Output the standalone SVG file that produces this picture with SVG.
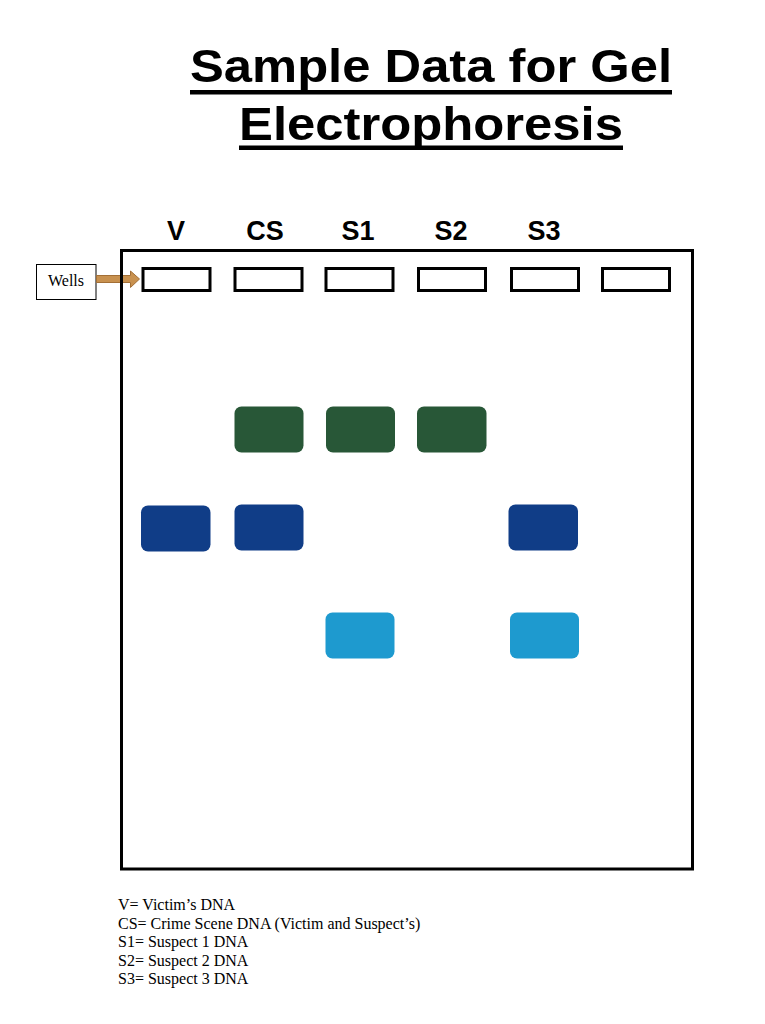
<svg xmlns="http://www.w3.org/2000/svg" width="765" height="1024" viewBox="0 0 765 1024">
<style>
.title{font-family:"Liberation Sans",Arial,sans-serif;font-weight:bold;font-size:46px;fill:#000}
.lane{font-family:"Liberation Sans",Arial,sans-serif;font-weight:bold;font-size:27px;fill:#000;text-anchor:middle}
.legend{font-family:"Liberation Serif","Times New Roman",serif;font-size:16px;fill:#000}
.well{fill:#fff;stroke:#000;stroke-width:3}
.green{fill:#285737}
.blue{fill:#103D87}
.light{fill:#1E9ACF}
</style>
<rect width="765" height="1024" fill="#fff"/>
<g id="title">
<text class="title" x="190" y="81.5" textLength="482" lengthAdjust="spacingAndGlyphs">Sample Data for Gel</text>
<rect x="190" y="90" width="482" height="4.5" fill="#000"/>
<text class="title" x="239" y="139.5" textLength="384" lengthAdjust="spacingAndGlyphs">Electrophoresis</text>
<rect x="239" y="145.5" width="384" height="4.5" fill="#000"/>
</g>
<g id="lane-labels">
<text class="lane" x="176" y="240">V</text>
<text class="lane" x="265" y="240">CS</text>
<text class="lane" x="358" y="240">S1</text>
<text class="lane" x="451" y="240">S2</text>
<text class="lane" x="544" y="240">S3</text>
</g>
<g id="gel">
<rect x="121.5" y="250.5" width="571" height="618.5" fill="#fff" stroke="#000" stroke-width="3"/>
</g>
<g id="wells">
<rect class="well" x="143" y="268.5" width="67" height="22"/>
<rect class="well" x="235" y="268.5" width="67" height="22"/>
<rect class="well" x="326" y="268.5" width="67" height="22"/>
<rect class="well" x="418.5" y="268.5" width="67" height="22"/>
<rect class="well" x="511.5" y="268.5" width="67" height="22"/>
<rect class="well" x="602.5" y="268.5" width="67" height="22"/>
</g>
<g id="wells-label">
<rect x="36.5" y="264.5" width="59.5" height="35" fill="#fff" stroke="#000" stroke-width="1"/>
<text class="legend" x="66" y="285.5" text-anchor="middle">Wells</text>
</g>
<g id="connectors">
<path d="M96.5,275.5 H130.5 V271 L139.5,279 L130.5,287.5 V282.5 H96.5 Z" fill="#C8914F" stroke="#A36F36" stroke-width="1"/>
<line x1="121.5" y1="250.5" x2="121.5" y2="300" stroke="#000" stroke-width="3"/>
</g>
<g id="bands">
<rect class="green" x="234.5" y="406.5" width="69" height="46" rx="7"/>
<rect class="green" x="326" y="406.5" width="69" height="46" rx="7"/>
<rect class="green" x="417" y="406.5" width="69.5" height="46" rx="7"/>
<rect class="blue" x="141" y="505.5" width="69.5" height="46" rx="7"/>
<rect class="blue" x="234.5" y="504.5" width="69" height="46" rx="7"/>
<rect class="blue" x="508.5" y="504.5" width="69.5" height="46" rx="7"/>
<rect class="light" x="325.5" y="612.5" width="69" height="46" rx="7"/>
<rect class="light" x="510" y="612.5" width="69" height="46" rx="7"/>
</g>
<g id="legend">
<text class="legend" x="118" y="910">V= Victim’s DNA</text>
<text class="legend" x="118" y="928.5">CS= Crime Scene DNA (Victim and Suspect’s)</text>
<text class="legend" x="118" y="947">S1= Suspect 1 DNA</text>
<text class="legend" x="118" y="965.5">S2= Suspect 2 DNA</text>
<text class="legend" x="118" y="984">S3= Suspect 3 DNA</text>
</g>
</svg>
